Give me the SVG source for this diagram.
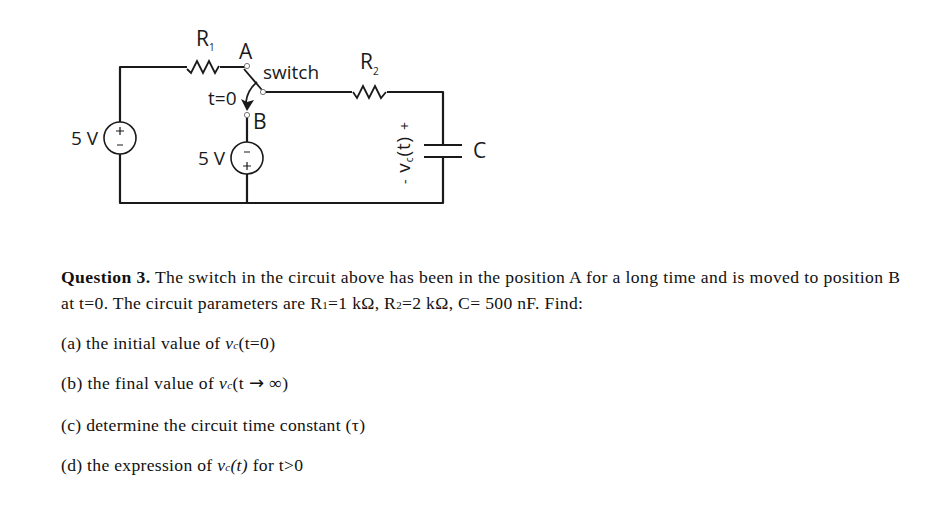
<svg xmlns="http://www.w3.org/2000/svg" width="932" height="510" viewBox="0 0 932 510">
<style>
.w{fill:none;stroke:#1a1a1a;stroke-width:2.2;stroke-linejoin:round}
.r{fill:none;stroke:#1a1a1a;stroke-width:1.8}
.t{fill:#fff;stroke:#777;stroke-width:1}
.s{fill:#fff;stroke:#1a1a1a;stroke-width:1.6}
.c{font-family:"Open Sans","Noto Sans",sans-serif;fill:#1a1a1a;font-size:19px}
.l{font-size:21px}
.sm{font-size:10px}
.pm{font-size:14px}
.q{font-family:"Liberation Serif",serif;fill:#111;font-size:17.6px}
.b{font-weight:bold}
.i{font-style:italic}
.x{font-size:11px}
.a{font-family:"DejaVu Sans",sans-serif;font-size:18px}
</style>
<rect width="932" height="510" fill="#fff"/>
<g id="connectors">
<path class="w" d="M120 122V67H187M220 67H245"/>
<path class="w" d="M120 154V203H443V157"/>
<path class="w" d="M443 145V92H387M352 92H265"/>
<path class="w" d="M247 117V142M247 174V203"/>
<path class="r" d="M244 69L262 90"/>
<path class="r" d="M257 82C251 87 247 93 246 102"/>
<path d="M241 99L247 102L254 100L247 111Z" fill="#1a1a1a"/>
</g>
<g id="R1"><path class="r" d="M187 69L191 73L197 61L203 73L209 61L215 73L219 66"/>
<text class="c l" x="196" y="46">R</text><text class="c sm" x="209" y="51">1</text></g>
<g id="R2"><path class="r" d="M353 92L357 98L363 86L369 98L375 86L381 98L386 92"/>
<text class="c l" x="360" y="69">R</text><text class="c sm" x="373" y="75">2</text></g>
<g id="terminalA"><circle class="t" cx="247" cy="66" r="2.6"/><text class="c l" x="239" y="59">A</text></g>
<g id="terminalOut"><circle class="t" cx="263" cy="92" r="2.6"/></g>
<g id="terminalB"><circle class="t" cx="247" cy="115" r="2.6"/><text class="c l" x="253" y="129">B</text></g>
<g id="labels"><text class="c" x="263" y="79">switch</text><text class="c" x="208" y="105">t=0</text></g>
<g id="source1"><circle class="s" cx="120" cy="138" r="16"/><text class="c" x="71" y="145">5 V</text>
<path d="M116 131H124M120 127V135M117 145H123" stroke="#1a1a1a" stroke-width="1.2" fill="none"/></g>
<g id="source2"><circle class="s" cx="247" cy="158" r="16"/><text class="c" x="198" y="165">5 V</text>
<path d="M244 152H250M243 166H251M247 162V170" stroke="#1a1a1a" stroke-width="1.2" fill="none"/></g>
<g id="capacitor"><path class="r" d="M424 145H462M424 157H462"/>
<text class="c l" x="473" y="158">C</text>
<text class="c" transform="translate(410,184) rotate(-90)" textLength="62" lengthAdjust="spacing"><tspan class="pm">-</tspan> v<tspan class="sm" dy="3">c</tspan><tspan dy="-3">(t) </tspan><tspan class="pm">+</tspan></text></g>
<g id="question">
<text class="q" x="61" y="283" textLength="839" lengthAdjust="spacing"><tspan class="b">Question 3.</tspan> The switch in the circuit above has been in the position A for a long time and is moved to position B</text>
<text class="q" x="61" y="309" textLength="522" lengthAdjust="spacing">at t=0. The circuit parameters are R<tspan class="x">1</tspan>=1 kΩ, R<tspan class="x">2</tspan>=2 kΩ, C= 500 nF. Find:</text>
<text class="q" x="61" y="349" textLength="214" lengthAdjust="spacing">(a) the initial value of <tspan class="i">v</tspan><tspan class="i x">c</tspan>(t=0)</text>
<text class="q" x="61" y="389" textLength="227" lengthAdjust="spacing">(b) the final value of <tspan class="i">v</tspan><tspan class="i x">c</tspan>(t <tspan class="a">→</tspan> ∞)</text>
<text class="q" x="61" y="431" textLength="304" lengthAdjust="spacing">(c) determine the circuit time constant (τ)</text>
<text class="q" x="61" y="471" textLength="242" lengthAdjust="spacing">(d) the expression of <tspan class="i">v</tspan><tspan class="i x">c</tspan><tspan class="i">(t)</tspan> for t&gt;0</text>
</g>
</svg>
